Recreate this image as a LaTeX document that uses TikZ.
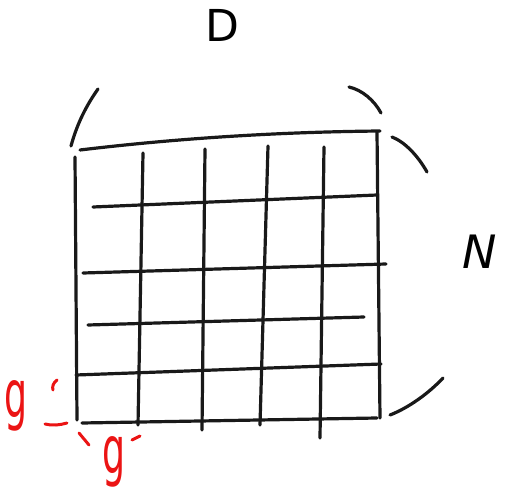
\documentclass[tikz,border=0pt]{standalone}
\usepackage{fontspec}
\setmainfont{DejaVu Sans}
\begin{document}
\begin{tikzpicture}[x=1pt, y=-1pt, line cap=round, line join=round]
	\definecolor{penred}{RGB}{235, 20, 20}
	\tikzset{pen/.style={line width=3.2pt, black!90},
		redpen/.style={line width=3pt, penred},
		letter/.style={font=\fontsize{44}{44}\selectfont},
		redletter/.style={text=penred, inner sep=0pt, xscale=0.55, font=\fontsize{66}{66}\selectfont}}
	\useasboundingbox (0,0) rectangle (514,494);
	
	% 外框
	\draw[pen] (80,150) .. controls (180,138) and (280,132) .. (380,131);
	\draw[pen] (75,157) -- (77,420);
	\draw[pen] (377,132) -- (380,418);
	\draw[pen] (82,423) -- (377,418);
	
	% 横线
	\draw[pen] (93,207) -- (377,195);
	\draw[pen] (83,273) -- (386,264);
	\draw[pen] (88,325) -- (364,317);
	\draw[pen] (76,375) -- (381,364);
	
	% 竖线
	\draw[pen] (143,153) -- (138,425);
	\draw[pen] (205,149) -- (202,430);
	\draw[pen] (268,146) -- (260,425);
	\draw[pen] (324,147) -- (320,438);
	
	% 括号弧线
	\draw[pen] (98,89) .. controls (86,106) and (77,124) .. (71,146);
	\draw[pen] (349,87) .. controls (362,90) and (374,100) .. (381,113);
	\draw[pen] (392,137) .. controls (405,142) and (418,156) .. (427,172);
	\draw[pen] (443,378) .. controls (428,394) and (408,408) .. (390,415);
	
	% 标签
	\node[letter] (dimD) at (222,25) {D};
	\node[letter, font=\fontsize{46}{46}\selectfont\itshape] (dimN) at (480,252) {N};
	
	% 红色标记 g
	\draw[redpen] (57,380) .. controls (53,383) and (52,387) .. (53,390);
	\draw[redpen] (45,424) .. controls (52,426) and (60,425) .. (67,423);
	\draw[redpen] (79,433) -- (89,445);
	\draw[redpen] (132,440) -- (140,436);
	\node[redletter] (gleft) at (16,406) {g};
	\node[redletter] (gdown) at (114,462) {g};
\end{tikzpicture}
\end{document}
